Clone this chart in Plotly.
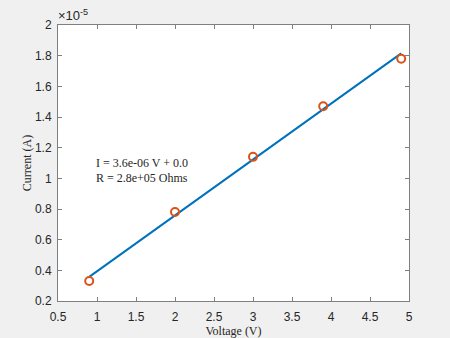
import plotly.graph_objects as go

voltage = [0.9, 2.0, 3.0, 3.9, 4.9]
current = [0.33e-5, 0.78e-5, 1.14e-5, 1.47e-5, 1.78e-5]
fit_voltage = [0.9, 4.9]
fit_current = [0.357e-5, 1.815e-5]
x_ticks = [0.5, 1, 1.5, 2, 2.5, 3, 3.5, 4, 4.5, 5]
x_ticklabels = ["0.5", "1", "1.5", "2", "2.5", "3", "3.5", "4", "4.5", "5"]
y_ticks = [0.2e-5, 0.4e-5, 0.6e-5, 0.8e-5, 1.0e-5, 1.2e-5, 1.4e-5, 1.6e-5, 1.8e-5, 2.0e-5]
y_ticklabels = ["0.2", "0.4", "0.6", "0.8", "1", "1.2", "1.4", "1.6", "1.8", "2"]
fit_text = ["I = 3.6e-06 V + 0.0", "R = 2.8e+05 Ohms"]

fig = go.Figure()
fig.add_trace(go.Scatter(x=fit_voltage, y=fit_current, mode="lines",
                         line=dict(color="#0072BD", width=2), showlegend=False))
fig.add_trace(go.Scatter(x=voltage, y=current, mode="markers",
                         marker=dict(symbol="circle-open", color="#D95319", size=8,
                                     line=dict(width=2, color="#D95319")),
                         showlegend=False))

axis_common = dict(showline=True, linecolor="#7f7f7f", linewidth=1, mirror="ticks",
                   ticks="inside", ticklen=4, tickcolor="#7f7f7f", showgrid=False,
                   zeroline=False, automargin=False,
                   tickfont=dict(family="Liberation Sans, Arial", size=12, color="#262626"))

serif = "Liberation Serif, Times New Roman"

fig.update_layout(
    width=450, height=338,
    margin=dict(l=58, r=41, t=25, b=37),
    paper_bgcolor="#f0f0f0", plot_bgcolor="white",
    xaxis=dict(range=[0.5, 5], tickvals=x_ticks, ticktext=x_ticklabels, ticklabelstandoff=5,
               title=dict(text="Voltage (V)", standoff=0,
                          font=dict(family=serif, size=12, color="#262626")),
               **axis_common),
    yaxis=dict(range=[0.2e-5, 2e-5], tickvals=y_ticks, ticktext=y_ticklabels, ticklabelstandoff=3,
               title=dict(text="Current (A)", standoff=0,
                          font=dict(family=serif, size=12, color="#262626")),
               **axis_common),
    annotations=[
        dict(xref="paper", yref="paper", x=0.0, y=1.0, xanchor="left", yanchor="bottom",
             text="×10<sup>-5</sup>", showarrow=False, yshift=0, xshift=-2,
             font=dict(family="Liberation Sans, Arial", size=13, color="#262626")),
        dict(xref="x", yref="y", x=0.96, y=1.1e-5, xanchor="left", yanchor="middle",
             text=fit_text[0], showarrow=False,
             font=dict(family=serif, size=12, color="#262626")),
        dict(xref="x", yref="y", x=0.96, y=1.0e-5, xanchor="left", yanchor="middle",
             text=fit_text[1], showarrow=False,
             font=dict(family=serif, size=12, color="#262626")),
    ],
)

fig.write_html("out.html")
